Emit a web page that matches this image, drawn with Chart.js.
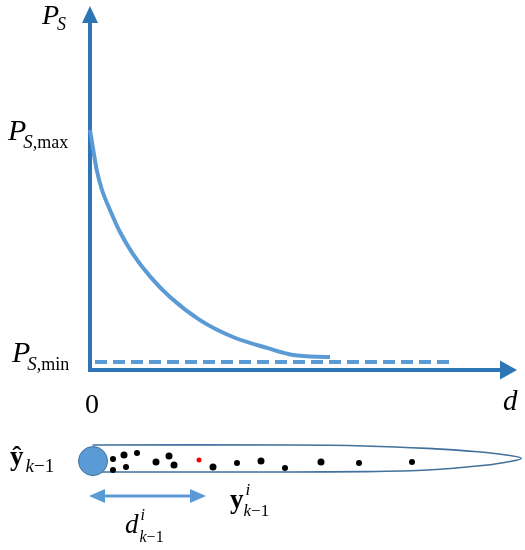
<!DOCTYPE html>
<html>
<head>
<meta charset="utf-8">
<script src="https://cdn.jsdelivr.net/npm/chart.js@4"></script>
<style>
  html, body { margin: 0; padding: 0; background: #fff; }
  #wrap { width: 525px; height: 550px; position: relative; }
</style>
</head>
<body>
<div id="wrap"><canvas id="diagram"></canvas></div>
<script>
// Survival probability P_S against distance d
const P_MAX = 1.0;
const P_MIN = 0.033;
const curveD = [0, 0.13, 0.27, 0.48, 0.8, 1.2, 1.72, 2.4, 3.2, 4.4, 5.72, 7.08, 8.12, 9.6];
const curveP = [1.0, 0.917, 0.833, 0.75, 0.667, 0.575, 0.483, 0.39, 0.304, 0.208, 0.1375, 0.092, 0.0625, 0.054];
const minLineD = [0.2, 14.5];

// axes (d, P)
const yAxisD = [0, 0];
const yAxisP = [-0.008, 1.446];
const xAxisD = [-0.08, 16.4];
const xAxisP = [0, 0];

// particle cloud below: distance along d, lateral offset
const estimateD = [0.12];
const estimateOff = [-0.19];
const particleD = [0.92, 0.92, 1.36, 1.44, 1.88, 2.64, 3.16, 3.36, 4.92, 5.88, 6.84, 7.8, 9.24, 10.76, 12.88];
const particleOff = [-0.04, -0.85, 0.26, -0.63, 0.41, -0.26, 0.19, -0.48, -0.63, -0.33, -0.19, -0.7, -0.26, -0.33, -0.26];
const particleR = [3, 3, 3.5, 3, 3, 3.5, 3.5, 3.5, 3.5, 3, 3.5, 3, 3.5, 3, 3];
const selectedD = [4.36];
const selectedOff = [-0.11];
const tubeD = [0.1, 8, 11, 13.5, 15.5, 16.8, 17.25, 16.8, 15.8, 13.5, 11, 8, 0.1];
const tubeOff = [1, 1, 0.93, 0.75, 0.5, 0.22, 0, -0.22, -0.5, -0.85, -0.97, -1, -1];
const spanD = [0.6, 4.0];
const spanOff = [-2.78, -2.78];

const AXIS_BLUE = '#2E75B6';
const LIGHT_BLUE = '#5B9BD5';
const SHAPE_BLUE = '#41719C';

const pts = (xs, ys) => xs.map((x, i) => ({ x: x, y: ys[i] }));

const IT = s => 'italic ' + s + 'px "Liberation Serif", "DejaVu Serif", serif';
const RM = s => s + 'px "Liberation Serif", "DejaVu Serif", serif';
const BD = s => 'bold ' + s + 'px "Liberation Serif", "DejaVu Serif", serif';

const labels = [
    { x: -1.92, y: 1.4417, axis: 'y', parts: [{ t: 'P', f: IT(28) }, { t: 'S', f: IT(18), dx: -2, dy: 6 }] },
    { x: -3.28, y: 0.958, axis: 'y', parts: [{ t: 'P', f: IT(30) }, { t: 'S', f: IT(19), dx: -3, dy: 8 }, { t: ',max', f: RM(18), dy: 8 }] },
    { x: -3.12, y: 0.033, axis: 'y', parts: [{ t: 'P', f: IT(30) }, { t: 'S', f: IT(19), dx: -3, dy: 8 }, { t: ',min', f: RM(18), dy: 8 }] },
    { x: 0.08, y: -0.179, axis: 'y', center: true, parts: [{ t: '0', f: RM(28) }] },
    { x: 16.52, y: -0.167, axis: 'y', parts: [{ t: 'd', f: IT(29) }] },
    { x: -3.2, y: -0.48, axis: 'y2', parts: [{ t: 'ŷ', f: BD(27) }, { t: 'k', f: IT(19), dx: 2, dy: 7 }, { t: '−1', f: RM(19), dy: 7 }] },
    { x: 1.4, y: -5.52, axis: 'y2', parts: [{ t: 'd', f: IT(27) }, { t: 'i', f: IT(16), dx: 2, dy: -13, stay: true }, { t: 'k', f: IT(16), dx: 1, dy: 9 }, { t: '−1', f: RM(16), dy: 9 }] },
    { x: 5.6, y: -3.67, axis: 'y2', parts: [{ t: 'y', f: BD(27) }, { t: 'i', f: IT(17), dx: 2, dy: -13, stay: true }, { t: 'k', f: IT(17), dy: 8 }, { t: '−1', f: RM(17), dy: 8 }] }
];

// arrow heads on line datasets
const arrowPlugin = {
    id: 'arrows',
    afterDatasetsDraw(chart) {
        const ctx = chart.ctx;
        chart.data.datasets.forEach((ds, i) => {
            if (!ds.arrow) return;
            const el = chart.getDatasetMeta(i).data;
            const head = (a, b) => {
                const dx = b.x - a.x, dy = b.y - a.y;
                const len = Math.hypot(dx, dy);
                const ux = dx / len, uy = dy / len;
                const L = ds.arrow.len, W = ds.arrow.width / 2;
                ctx.beginPath();
                ctx.moveTo(b.x + ux * L, b.y + uy * L);
                ctx.lineTo(b.x - uy * W, b.y + ux * W);
                ctx.lineTo(b.x + uy * W, b.y - ux * W);
                ctx.closePath();
                ctx.fill();
            };
            ctx.save();
            ctx.fillStyle = ds.borderColor;
            if (ds.arrow.end) head(el[el.length - 2], el[el.length - 1]);
            if (ds.arrow.start) head(el[1], el[0]);
            ctx.restore();
        });
    }
};

// math-ish text labels
const labelPlugin = {
    id: 'mathLabels',
    afterDraw(chart) {
        const ctx = chart.ctx;
        const xs = chart.scales.x;
        ctx.save();
        ctx.fillStyle = '#000';
        ctx.textBaseline = 'alphabetic';
        labels.forEach(lb => {
            let px = xs.getPixelForValue(lb.x);
            const py = chart.scales[lb.axis].getPixelForValue(lb.y);
            if (lb.center) {
                ctx.font = lb.parts[0].f;
                px -= ctx.measureText(lb.parts[0].t).width / 2;
            }
            lb.parts.forEach(p => {
                ctx.font = p.f;
                const x0 = px + (p.dx || 0);
                ctx.fillText(p.t, x0, py + (p.dy || 0));
                if (!p.stay) px = x0 + ctx.measureText(p.t).width;
            });
        });
        ctx.restore();
    }
};

new Chart(document.getElementById('diagram'), {
    type: 'scatter',
    data: {
        datasets: [
            {
                data: pts(estimateD, estimateOff), yAxisID: 'y2', order: 0,
                pointRadius: 14.5, pointBackgroundColor: LIGHT_BLUE, pointBorderColor: SHAPE_BLUE, pointBorderWidth: 1
            },
            {
                data: pts(selectedD, selectedOff), yAxisID: 'y2', order: 1,
                pointRadius: 2.5, pointBackgroundColor: '#FF0000', pointBorderWidth: 0
            },
            {
                data: pts(particleD, particleOff), yAxisID: 'y2', order: 2,
                pointRadius: particleR, pointBackgroundColor: '#000', pointBorderWidth: 0
            },
            {
                data: pts(tubeD, tubeOff), yAxisID: 'y2', order: 5, showLine: true, tension: 0.3,
                borderColor: SHAPE_BLUE, borderWidth: 1.6, pointRadius: 0
            },
            {
                data: pts(spanD, spanOff), yAxisID: 'y2', order: 3, showLine: true,
                borderColor: LIGHT_BLUE, borderWidth: 3, pointRadius: 0,
                arrow: { start: true, end: true, len: 16, width: 14 }
            },
            {
                data: pts(curveD, curveP), order: 4, showLine: true, cubicInterpolationMode: 'monotone',
                borderColor: LIGHT_BLUE, borderWidth: 4, pointRadius: 0
            },
            {
                data: pts(minLineD, [P_MIN, P_MIN]), order: 6, showLine: true, borderDash: [12, 6],
                borderColor: LIGHT_BLUE, borderWidth: 4, pointRadius: 0
            },
            {
                data: pts(yAxisD, yAxisP), order: 7, showLine: true,
                borderColor: AXIS_BLUE, borderWidth: 4, pointRadius: 0,
                arrow: { end: true, len: 17, width: 16 }
            },
            {
                data: pts(xAxisD, xAxisP), order: 7, showLine: true,
                borderColor: AXIS_BLUE, borderWidth: 4, pointRadius: 0,
                arrow: { end: true, len: 17, width: 19 }
            }
        ]
    },
    options: {
        responsive: true,
        maintainAspectRatio: false,
        animation: false,
        layout: { padding: 0, autoPadding: false },
        plugins: { legend: { display: false }, tooltip: { enabled: false } },
        scales: {
            x: { type: 'linear', min: -3.6, max: 17.4, display: false },
            y: { type: 'linear', min: -0.75, max: 1.541667, display: false },
            y2: { type: 'linear', min: -6.778, max: 33.963, display: false }
        }
    },
    plugins: [arrowPlugin, labelPlugin]
});
</script>
</body>
</html>
